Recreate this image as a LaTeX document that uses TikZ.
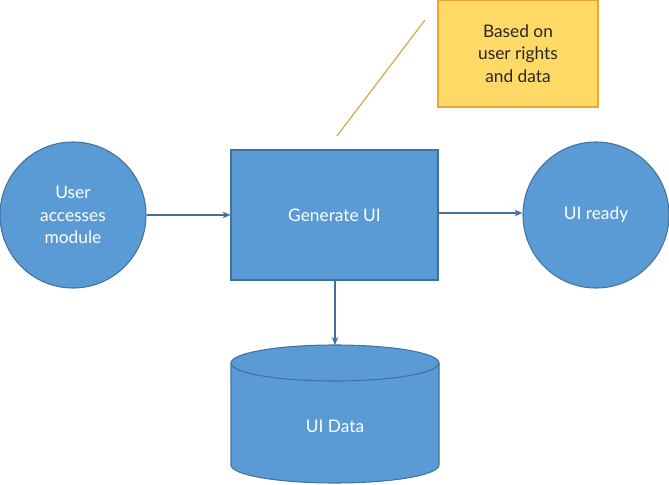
\documentclass[tikz,border=0pt]{standalone}
\usepackage{fontspec}
\setmainfont{Lato}
\usetikzlibrary{arrows.meta}
\definecolor{bfill}{HTML}{5B9BD5}
\definecolor{bline}{HTML}{41719C}
\definecolor{nfill}{HTML}{FFD966}
\definecolor{nline}{HTML}{E5A833}
\definecolor{cline}{HTML}{C9A23A}
\begin{document}
\begin{tikzpicture}[x=0.75pt,y=-0.75pt,
  blue/.style={draw=bline,fill=bfill,text=white,font=\fontsize{13}{17}\selectfont,align=center,line width=0.8pt},
  arr/.style={draw=bline,line width=0.8pt,-{Stealth[length=6pt,width=5pt]}}]
\useasboundingbox (0,0) rectangle (669,485);
\node[blue,circle,minimum size=109.5pt,inner sep=0pt] (user) at (73,215) {User\\accesses\\module};
\node[blue,rectangle,minimum width=155.25pt,minimum height=97.5pt] (gen) at (334.5,215) {Generate UI};
\node[blue,circle,minimum size=109.5pt,inner sep=0pt] (ready) at (596,215) {UI ready};
\draw[blue] (231,363) -- (231,465) arc[start angle=180,end angle=0,x radius=104,y radius=18] -- (439,363) arc[start angle=0,end angle=-180,x radius=104,y radius=18] -- cycle;
\draw[blue] (231,363) arc[start angle=180,end angle=0,x radius=104,y radius=18];
\coordinate (datatop) at (335,345);
\node[text=white,font=\fontsize{13}{17}\selectfont] (data) at (335,426) {UI Data};
\node[draw=nline,fill=nfill,minimum width=120pt,minimum height=80.25pt,align=center,font=\fontsize{13}{17}\selectfont,text=black!85,line width=0.8pt] (note) at (518,53.5) {Based on\\user rights\\and data};
\coordinate (c1) at (337,136);
\coordinate (c2) at (425,20);
\draw[cline,line width=0.8pt] (c1) -- (c2);
\draw[arr] (user) -- (gen);
\draw[arr] (gen.east |- 0,213) -- (ready.west |- 0,213);
\draw[arr] (gen.south -| datatop) -- (datatop);
\end{tikzpicture}
\end{document}
